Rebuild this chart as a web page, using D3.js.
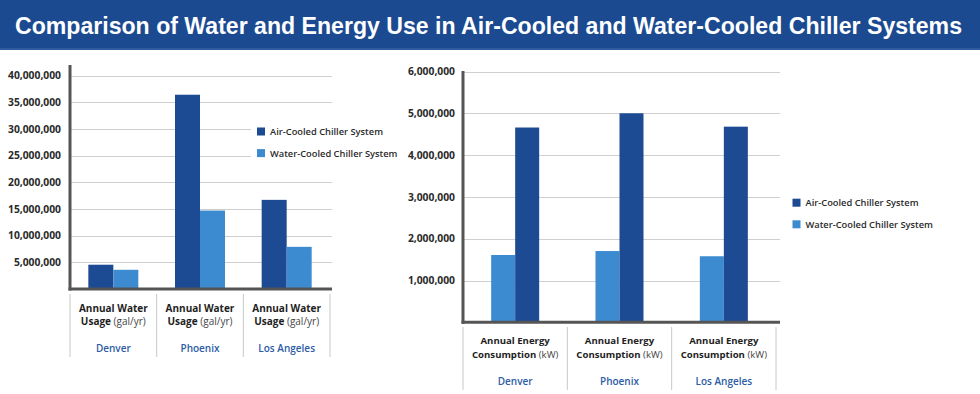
<!DOCTYPE html>
<html>
<head>
<meta charset="utf-8">
<script src="https://cdn.jsdelivr.net/npm/d3@7"></script>
<style>
  html, body { margin: 0; padding: 0; background: #fff; }
  svg { display: block; }
  text { font-family: "Open Sans", "Noto Sans", sans-serif; }
</style>
</head>
<body>
<svg id="chart" width="980" height="394"></svg>
<script>
// ---------- data ----------
const title = "Comparison of Water and Energy Use in Air-Cooled and Water-Cooled Chiller Systems";
const cities = ["Denver", "Phoenix", "Los Angeles"];
const seriesNames = ["Air-Cooled Chiller System", "Water-Cooled Chiller System"];

const waterAir   = [4550000, 36400000, 16700000];
const waterWater = [3600000, 14700000, 7900000];
const waterTicks = [5000000, 10000000, 15000000, 20000000, 25000000, 30000000, 35000000, 40000000];
const waterLabel = ["Annual Water", "Usage", "(gal/yr)"];

const energyAir   = [4660000, 5000000, 4680000];
const energyWater = [1610000, 1705000, 1580000];
const energyTicks = [1000000, 2000000, 3000000, 4000000, 5000000, 6000000];
const energyLabel = ["Annual Energy", "Consumption", "(kW)"];

// ---------- style ----------
const DARK = "#1c4a93";
const LIGHT = "#3c8bd0";
const BAR_BG = "#1b4a91";
const CITY = "#2c5ca6";
const AXIS = "#555555";
const GRID = "#cfcfcf";
const fmt = d3.format(",");

const svg = d3.select("#chart");

// title bar
svg.append("rect").attr("x", 0).attr("y", 0).attr("width", 980).attr("height", 50).attr("fill", BAR_BG);
svg.append("rect").attr("x", 0).attr("y", 48).attr("width", 980).attr("height", 2).attr("fill", "#2f5c9f");
svg.append("text")
  .attr("x", 15).attr("y", 33.5)
  .attr("textLength", 947).attr("lengthAdjust", "spacingAndGlyphs")
  .style("font-family", "'Liberation Sans', Arial, sans-serif")
  .style("font-weight", "bold").style("font-size", "23px")
  .attr("fill", "#fff").text(title);

function drawChart(cfg) {
  const g = svg.append("g");
  const x = d3.scaleBand().domain(cities).range([cfg.x0, cfg.x1]);
  const y = d3.scaleLinear().domain([0, cfg.max]).range([cfg.y0, cfg.yTop]);
  const inner = d3.scaleBand().domain(cfg.order).range([0, 2 * cfg.barW]);

  // gridlines
  g.append("g").selectAll("line").data(cfg.ticks).join("line")
    .attr("x1", cfg.x0).attr("x2", cfg.gridEnd)
    .attr("y1", d => Math.round(y(d)) + 0.5).attr("y2", d => Math.round(y(d)) + 0.5)
    .attr("stroke", GRID).attr("stroke-width", 1);

  // y axis labels via d3 axis
  const ax = g.append("g").attr("transform", `translate(${cfg.labelX},0)`)
    .call(d3.axisLeft(y).tickValues(cfg.ticks).tickFormat(fmt).tickSize(0).tickPadding(0));
  ax.select(".domain").remove();
  ax.selectAll("text").style("font-size", "10.3px").style("font-weight", "700")
    .attr("fill", "#2a2a2a").attr("font-family", null);

  // bars
  const seriesData = { air: cfg.air, water: cfg.water };
  const colors = { air: DARK, water: LIGHT };
  cities.forEach((c, i) => {
    cfg.order.forEach(s => {
      const v = seriesData[s][i];
      g.append("rect")
        .attr("x", x(c) + x.bandwidth() / 2 - cfg.barW + inner(s))
        .attr("width", inner.bandwidth())
        .attr("y", y(v)).attr("height", y(0) - y(v))
        .attr("fill", colors[s]);
    });
  });

  // axes lines
  g.append("line").attr("x1", cfg.x0).attr("x2", cfg.x0)
    .attr("y1", cfg.axisTop).attr("y2", cfg.y0 + 1.5)
    .attr("stroke", AXIS).attr("stroke-width", 3);
  g.append("line").attr("x1", cfg.x0 - 1.5).attr("x2", cfg.gridEnd)
    .attr("y1", cfg.y0).attr("y2", cfg.y0)
    .attr("stroke", AXIS).attr("stroke-width", 3);

  // category separators
  const seps = cities.map(c => x(c)).concat([cfg.x1]);
  g.append("g").selectAll("line").data(seps).join("line")
    .attr("x1", d => d).attr("x2", d => d)
    .attr("y1", cfg.sepTop).attr("y2", cfg.sepBottom)
    .attr("stroke", "#c8c8c8").attr("stroke-width", 1);

  // category labels
  cities.forEach(c => {
    const cx = x(c) + x.bandwidth() / 2;
    g.append("text").attr("x", cx).attr("y", cfg.l1).attr("text-anchor", "middle")
      .style("font-size", cfg.labFs).style("font-weight", "700").attr("fill", "#1e1e1e")
      .text(cfg.label[0]);
    const t = g.append("text").attr("x", cx).attr("y", cfg.l2).attr("text-anchor", "middle")
      .style("font-size", cfg.labFs).attr("fill", "#1e1e1e");
    t.append("tspan").style("font-weight", "700").text(cfg.label[1] + " ");
    t.append("tspan").style("font-weight", "400").attr("fill", "#444").text(cfg.label[2]);
    g.append("text").attr("x", cx).attr("y", cfg.l3).attr("text-anchor", "middle")
      .style("font-size", "10px").style("font-weight", "600").attr("fill", CITY)
      .text(c);
  });

  // legend
  const lg = g.append("g");
  lg.append("rect").attr("x", cfg.legX - 6).attr("y", cfg.legY - 12)
    .attr("width", 160).attr("height", 44).attr("fill", "#fff");
  seriesNames.forEach((n, i) => {
    const yy = cfg.legY + i * 21.6;
    lg.append("rect").attr("x", cfg.legX).attr("y", yy - 4).attr("width", 8).attr("height", 8)
      .attr("fill", i === 0 ? DARK : LIGHT);
    lg.append("text").attr("x", cfg.legX + 13).attr("y", yy + 3.5)
      .style("font-size", "9.3px").style("font-weight", "600").attr("fill", "#2a2a2a")
      .text(n);
  });
}

drawChart({
  x0: 70, x1: 330, gridEnd: 332, y0: 289, yTop: 75.5, max: 40000000,
  axisTop: 65, labelX: 61, barW: 25,
  order: ["air", "water"], air: waterAir, water: waterWater, ticks: waterTicks,
  label: waterLabel, labFs: "10px", sepTop: 294, sepBottom: 357, l1: 311.5, l2: 325, l3: 351.5,
  legX: 257, legY: 131.5
});

drawChart({
  x0: 463, x1: 776, gridEnd: 780, y0: 322.3, yTop: 71.5, max: 6000000,
  axisTop: 71, labelX: 455, barW: 24,
  order: ["water", "air"], air: energyAir, water: energyWater, ticks: energyTicks,
  label: energyLabel, labFs: "9.6px", sepTop: 327, sepBottom: 390, l1: 344, l2: 357.5, l3: 384.5,
  legX: 792.5, legY: 202.7
});
</script>
</body>
</html>
